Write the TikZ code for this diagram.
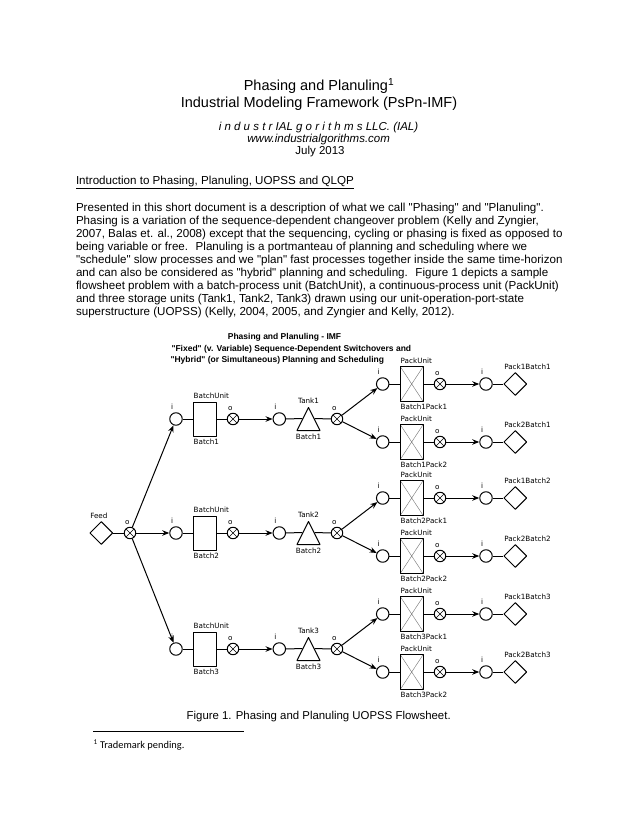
\documentclass[tikz,border=0pt]{standalone}
\usepackage{fontspec}
\setmainfont{Liberation Sans}[Ligatures=TeXOff]
\newfontfamily\dejavu{DejaVu Sans}
\newfontfamily\carlito{Carlito}
\usetikzlibrary{shapes.geometric,arrows.meta}
\tikzset{
	lbl/.style={font=\dejavu\fontsize{7.2}{8}\selectfont,inner sep=0.5pt},
	body/.style={font=\fontsize{11.6}{13}\selectfont,inner sep=0pt,anchor=base west},
	hdr/.style={font=\bfseries\fontsize{8.5}{10}\selectfont,inner sep=0pt},
	portnode/.style={circle,draw,minimum size=12.5pt,inner sep=0pt,label={[lbl,anchor=south west,xshift=-6pt,yshift=1.5pt]north:#1}},
	inport/.style={portnode=i},
	outport/.style={portnode=o,minimum size=11.5pt,path picture={\draw[thin] (path picture bounding box.north west) -- (path picture bounding box.south east) (path picture bounding box.north east) -- (path picture bounding box.south west);}},
	toplbl/.style={label={[lbl,anchor=south west,yshift=1.5pt]north west:#1}},
	botlbl/.style={label={[lbl,anchor=north west,yshift=-1.5pt]south west:#1}},
	batchbox/.style={draw,minimum width=23pt,minimum height=34pt,inner sep=0pt},
	packbox/.style={batchbox,minimum height=35pt,path picture={\draw[black!55,thin] (path picture bounding box.north west) -- (path picture bounding box.south east) (path picture bounding box.north east) -- (path picture bounding box.south west);}},
	tanktri/.style={isosceles triangle,shape border rotate=90,isosceles triangle stretches,draw,minimum width=23pt,minimum height=23pt,inner sep=0pt},
	statenode/.style={diamond,draw,minimum width=23pt,minimum height=23pt,inner sep=0pt,label={[lbl,anchor=south west,xshift=-12pt,yshift=1.3pt]north:#1}}
}
\begin{document}
\begin{tikzpicture}[x=1pt,y=-1pt,>={Stealth[length=7pt,width=5.5pt]},line width=1pt,line join=round]
	\fill[white] (0,0) rectangle (638,826);
	\useasboundingbox (0,0) rectangle (638,826);
	% heading of the page
	\node[anchor=base,inner sep=0pt,font=\fontsize{14.5}{17}\selectfont] (title) at (319,90.7) {Phasing and Planuling\textsuperscript{1}};
	\node[anchor=base,inner sep=0pt,font=\fontsize{14.5}{17}\selectfont] (subtitle) at (319,107.3) {Industrial Modeling Framework (PsPn-IMF)};
	\node[body,anchor=base,font=\itshape\fontsize{11.5}{13}\selectfont] (ial) at (318.5,130.7) {i n d u s t r IAL g o r i t h m s LLC. (IAL)};
	\node[body,anchor=base,font=\itshape\fontsize{11.5}{13}\selectfont] (www) at (318.7,142.7) {www.industrialgorithms.com};
	\node[body,anchor=base,font=\fontsize{11.5}{13}\selectfont] (date) at (320,155) {July 2013};
	\node[body] (intro) at (75.5,184.7) {\underline{Introduction to Phasing, Planuling, UOPSS and QLQP}};
	\foreach \ln [count=\k from 0] in {
		{Presented in this short document is a description of what we call "Phasing" and "Planuling".},
		{Phasing is a variation of the sequence-dependent changeover problem (Kelly and Zyngier,},
		{2007, Balas et. al., 2008) except that the sequencing, cycling or phasing is fixed as opposed to},
		{being variable or free.~ Planuling is a portmanteau of planning and scheduling where we},
		{"schedule" slow processes and we "plan" fast processes together inside the same time-horizon},
		{and can also be considered as "hybrid" planning and scheduling.~ Figure 1 depicts a sample},
		{flowsheet problem with a batch-process unit (BatchUnit), a continuous-process unit (PackUnit)},
		{and three storage units (Tank1, Tank2, Tank3) drawn using our unit-operation-port-state},
		{superstructure (UOPSS) (Kelly, 2004, 2005, and Zyngier and Kelly, 2012).}}
	\node[body] (par\k) at (75.5,{211.3+13.05*\k}) {\ln};
	% flowsheet
	\node[hdr,anchor=base] (fshead) at (284.5,339) {Phasing and Planuling - IMF};
	\node[hdr,anchor=base west] (fsfixed) at (171,351) {"Fixed" (v. Variable) Sequence-Dependent Switchovers and};
	\node[hdr,anchor=base west] (fshybrid) at (170,362) {"Hybrid" (or Simultaneous) Planning and Scheduling};
	\node[statenode=Feed] (feed) at (101.3,533) {};
	\node[outport] (fo) at (130,533) {};
	\draw (feed) -- (fo);
	\foreach \b/\y in {1/419,2/533,3/649}{
		\node[inport] (bi\b) at (176,\y) {};
		\node[batchbox,toplbl=BatchUnit,botlbl=Batch\b] (bu\b) at (204.7,\y) {};
		\node[outport] (bo\b) at (233,\y) {};
		\node[inport] (ti\b) at (279.3,\y) {};
		\node[tanktri,anchor=apex,label={[lbl,yshift=2pt]above:Tank\b},label={[lbl,yshift=-2pt]below:Batch\b}] (tk\b) at (308.5,{\y-12.8}) {};
		\node[outport] (to\b) at (337,\y) {};
		\draw[->] (fo) -- (bi\b);
		\draw (bi\b) -- (bu\b) -- (bo\b);
		\draw[->] (bo\b) -- (ti\b);
		\draw (ti\b) -- (tk\b.left side) (tk\b.right side) -- (to\b);
		\foreach \p/\d in {1/-35,2/23}{
			\node[inport] (pi\b\p) at (382.7,{\y+\d}) {};
			\node[packbox,toplbl=PackUnit,botlbl=Batch\b Pack\p] (pu\b\p) at (411.7,{\y+\d}) {};
			\node[outport] (po\b\p) at (440,{\y+\d}) {};
			\node[inport] (qi\b\p) at (486,{\y+\d}) {};
			\node[statenode=Pack\p Batch\b] (pk\b\p) at (515.3,{\y+\d}) {};
			\draw[->] (to\b) -- (pi\b\p);
			\draw (pi\b\p) -- (pu\b\p) -- (po\b\p);
			\draw[->] (po\b\p) -- (qi\b\p);
			\draw (qi\b\p) -- (pk\b\p);
		}
	}
	\node[body,anchor=base,font=\fontsize{11.4}{13}\selectfont] (caption) at (318.7,719.8) {Figure 1. Phasing and Planuling UOPSS Flowsheet.};
	% footnote
	\coordinate (rulel) at (93,731.7);
	\coordinate (ruler) at (244,731.7);
	\draw[line width=0.6pt] (rulel) -- (ruler);
	\node[body,font=\carlito\fontsize{10.4}{12}\selectfont] (fnote) at (93,748) {\textsuperscript{1} Trademark pending.};
\end{tikzpicture}
\end{document}
